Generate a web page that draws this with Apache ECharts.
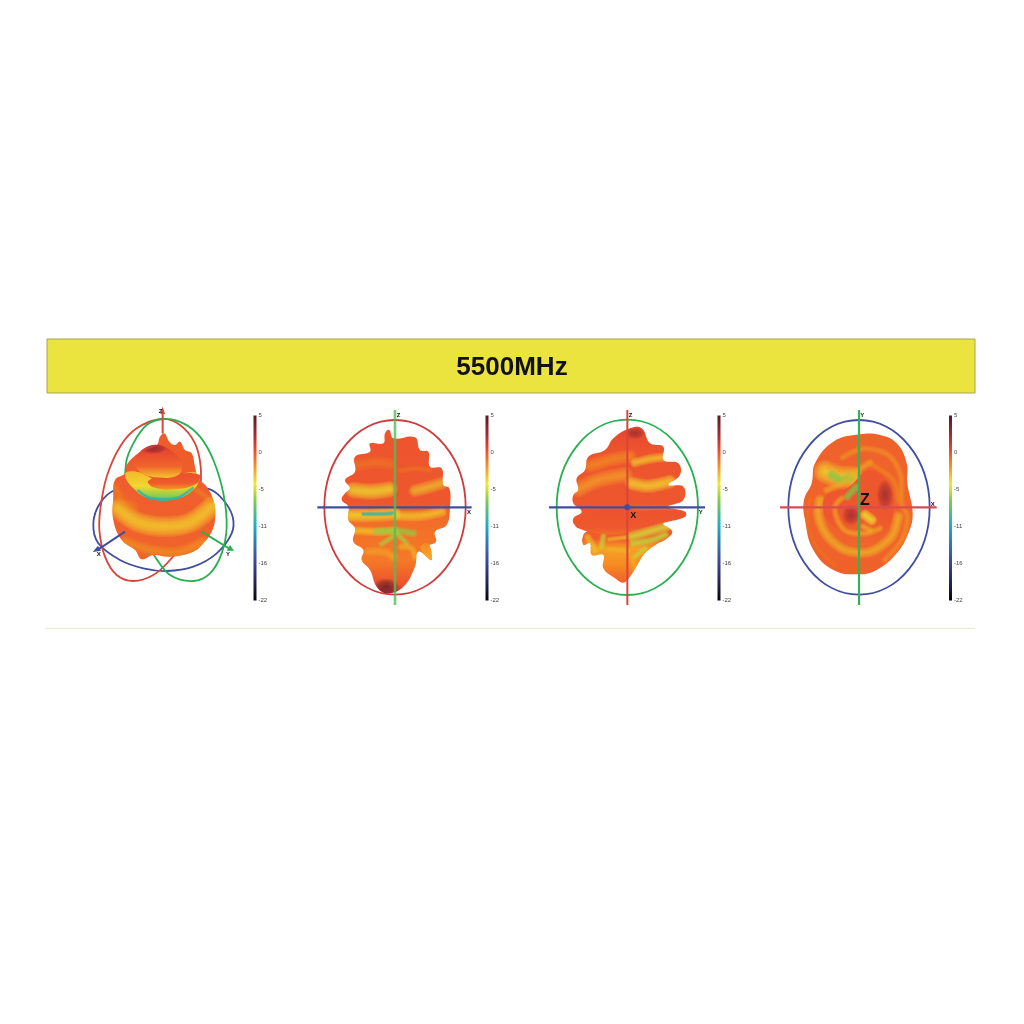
<!DOCTYPE html>
<html><head><meta charset="utf-8">
<style>html,body{margin:0;padding:0;background:#fff}#c{width:1024px;height:1024px;filter:blur(0.6px)}</style>
<script src="https://cdn.jsdelivr.net/npm/echarts@6/dist/echarts.min.js"></script>
</head><body><div id="c"></div>
<script>
const titleText = '5500MHz';
const colorbarTicks = ['-22','-16','-11','-5','0','5'];
const colormapDb = [5, 2, 0, -2.2, -5, -7.5, -11, -16, -19, -22];
const colormapRgb = [[85,25,35],[170,45,50],[235,72,48],[247,140,35],[240,232,50],[130,200,80],[30,175,195],[60,75,160],[40,40,90],[5,5,10]];
const panelLeft = [70, 300, 535, 770];
const barLeft = [255, 487, 719, 950.5];

const rings2 = [[285,322,212,262,'#cf3a3a']];
const rings3 = [[277,322,212,263,'#27b04f']];
const rings4 = [[267,322,212,262,'#3f4ea0']];

const redOrbit = [[275,57],[330,75],[375,130],[392,200],[390,280],[375,380],[300,480],[250,525],[190,543],[140,525],[105,470],[88,390],[92,320],[110,230],[150,140],[200,85]];
const greenOrbit = [[280,57],[340,70],[390,110],[430,180],[460,280],[470,380],[455,460],[420,520],[370,543],[300,525],[255,470],[200,380],[170,290],[168,190],[190,130],[230,75]];
const blueOrbit = [[135,270],[90,310],[70,370],[85,430],[150,480],[220,505],[290,513],[370,500],[440,460],[485,400],[488,350],[460,300],[420,268],[280,240]];

const p1Lines = [
 {p:[[278,100],[278,30]],c:'#d8453c',w:2},
 {p:[[165,395],[85,448]],c:'#3f4ea0',w:2},
 {p:[[395,395],[480,447]],c:'#27b04f',w:2}
];
const p1Heads = [
 {p:[[278,20],[271,42],[285,42]],c:'#d8453c'},
 {p:[[68,456],[84,437],[93,452]],c:'#3f4ea0'},
 {p:[[492,452],[470,452],[480,435]],c:'#27b04f'}
];
const p2Lines = [{p:[[52,322],[515,322]],c:'#3f4ea0',w:2.2},{p:[[285,30],[285,615]],c:'rgba(80,190,90,0.8)',w:2.6}];
const p3Lines = [{p:[[42,322],[510,322]],c:'#3f4ea0',w:2.2},{p:[[277,30],[277,615]],c:'#d8453c',w:2}];
const p4Lines = [{p:[[30,322],[500,322]],c:'#d84a55',w:2.2},{p:[[267,30],[267,615]],c:'#2fb552',w:2.2}];

const body1 = [[283,100],[298,125],[315,135],[330,125],[345,150],[365,160],[375,200],[385,235],[410,260],[430,300],[436,350],[425,395],[400,430],[370,455],[300,470],[250,465],[215,478],[195,450],[155,420],[130,360],[130,290],[135,240],[165,220],[170,195],[205,160],[260,135],[270,110]];
const p1Lobes = [
 {p:body1,s:[[0,-.6],[.5,-.7],[1,-.9]]},
 {p:[[165,222],[200,215],[270,240],[370,215],[385,235],[375,265],[320,297],[240,297],[190,265]],s:[[0,-3.5],[.5,-4.5],[.8,-7],[1,-9]]}
];
const p1Ridges = [
 {p:[[145,325],[200,365],[280,380],[360,368],[425,320]],d:-4.4,w:62,a:.95},
 {p:[[165,425],[250,452],[330,455],[400,425]],d:-2.6,w:36,a:.6},
 {p:[[135,265],[155,300],[190,320]],d:-2.4,w:36,a:.45},
 {p:[[205,272],[240,294],[320,294],[368,264]],d:-11,w:10,a:.9},
 {p:[[380,270],[420,300]],d:-2.6,w:24,a:.4}
];
const p1Caps = [
 {p:[[235,242],[300,224],[388,224],[378,252],[310,268],[250,262]],s:[[0,-.2],[.6,-.6],[1,-2.6]]},
 {p:[[205,160],[250,135],[300,150],[335,190],[325,225],[260,232],[210,215],[195,190]],s:[[0,1.5],[.2,.1],[.65,-.9],[1,-4]]}
];
const p1Blobs = [{c:[250,148],r:[38,14],d:3,a:.8}];

const body2 = [[268,90],[280,115],[345,112],[360,150],[385,155],[390,200],[425,205],[430,255],[448,265],[450,320],[440,375],[405,395],[408,425],[385,440],[395,480],[355,455],[345,500],[310,560],[262,580],[230,560],[210,510],[185,480],[190,450],[160,425],[165,385],[145,360],[145,320],[125,300],[135,280],[150,265],[135,240],[165,215],[165,170],[210,155],[210,130],[250,130],[255,100]];
const p2Lobes = [
 {p:body2,s:[[0,-.4],[.45,-.5],[.55,-1.2],[.8,-1.6],[.95,-.3],[1,2]]}
];
const p2Ridges = [
 {p:[[175,195],[225,188],[270,192]],d:-2,w:40,a:.4},
 {p:[[160,270],[215,275],[268,268]],d:-4.5,w:50,a:.95},
 {p:[[345,272],[385,262],[425,250]],d:-4,w:40,a:.75},
 {p:[[300,212],[350,205],[388,210]],d:-2,w:20,a:.4},
 {p:[[150,345],[215,345],[282,340]],d:-4.5,w:44,a:.95},
 {p:[[190,342],[235,342],[278,340]],d:-11,w:14,a:.9},
 {p:[[292,347],[360,347],[425,335]],d:-4.2,w:34,a:.85},
 {p:[[170,392],[240,395],[285,392]],d:-4.2,w:28,a:.8},
 {p:[[230,395],[285,392],[340,400]],d:-7,w:26,a:.9},
 {p:[[292,402],[320,430]],d:-6.5,w:20,a:.8},
 {p:[[245,432],[282,408]],d:-6.5,w:20,a:.8},
 {p:[[305,440],[335,445],[345,470]],d:-3.5,w:24,a:.7},
 {p:[[205,455],[250,455],[280,470]],d:-3.2,w:30,a:.6}
];
const p2Blobs = [{c:[258,560],r:[40,26],d:4,a:.9}];
const p2Caps = [
 {p:[[362,440],[385,430],[395,480],[372,462]],s:[[0,-2],[1,-3.2]]}
];

const body3 = [[285,85],[320,85],[345,130],[385,140],[385,180],[430,190],[435,225],[400,255],[445,260],[445,300],[400,320],[450,335],[450,350],[385,370],[412,395],[390,420],[370,430],[330,460],[310,490],[285,530],[265,548],[240,535],[205,505],[205,465],[170,465],[165,430],[145,435],[145,405],[165,385],[120,375],[115,355],[140,335],[115,310],[115,285],[130,270],[125,235],[150,210],[160,170],[210,150],[235,115]];
const p3Lobes = [
 {p:body3,s:[[0,.2],[.15,-.4],[.6,-.5],[.72,-.7],[.78,-2.8],[.88,-2.2],[1,-.8]]}
];
const p3Ridges = [
 {p:[[165,198],[230,178],[285,170]],d:-2.6,w:44,a:.6},
 {p:[[300,188],[340,178],[385,172]],d:-4.2,w:30,a:.85},
 {p:[[130,268],[190,240],[270,225]],d:-3.2,w:50,a:.7},
 {p:[[290,250],[340,258],[405,245]],d:-4.4,w:42,a:.95},
 {p:[[300,325],[370,325],[420,322]],d:-2.2,w:24,a:.5}
];
const p3Caps = [
 {p:[[120,368],[170,335],[290,332],[400,330],[450,335],[450,350],[370,372],[285,398],[200,402],[130,385]],s:[[0,-.4],[.7,-.5],[1,-1.2]]}
];
const p3Lower = [
 {p:[[290,410],[340,395],[395,380]],d:-5.6,w:32,a:.95},
 {p:[[295,430],[350,420],[390,405]],d:-6,w:26,a:.9},
 {p:[[205,410],[200,440]],d:-6,w:22,a:.8},
 {p:[[222,418],[275,412]],d:-3.8,w:16,a:.8},
 {p:[[300,470],[330,445]],d:-6,w:18,a:.8},
 {p:[[158,412],[180,450]],d:-3.8,w:26,a:.8},
 {p:[[215,448],[280,452]],d:-3.5,w:18,a:.8},
 {p:[[292,470],[300,510]],d:-3.4,w:22,a:.6}
];
const p3Blobs = [{c:[300,100],r:[30,18],d:3.5,a:.6}];

const body4 = [[270,103],[330,105],[380,130],[410,190],[412,250],[428,340],[415,400],[380,460],[320,510],[265,523],[190,510],[130,450],[105,360],[102,300],[125,250],[135,190],[190,125]];
const p4Lobes = [
 {p:body4,s:[[0,-.8],[.5,-.9],[1,-.8]]}
];
const p4Outer = [
 {p:[[218,172],[280,146],[355,165],[392,225],[395,310],[412,350],[395,420],[345,480]],d:-2.8,w:22,a:.6},
 {p:[[120,300],[112,360],[140,440],[195,495]],d:-2.2,w:16,a:.3},
 {p:[[150,300],[145,345],[170,405],[225,450],[300,455],[365,410],[385,350]],d:-3.6,w:34,a:.75},
 {p:[[165,215],[205,230],[245,232]],d:-5,w:70,a:.8},
 {p:[[185,225],[215,240],[240,232]],d:-7.5,w:30,a:.9},
 {p:[[170,270],[215,250],[262,212],[300,188]],d:-3.4,w:24,a:.6},
 {p:[[300,190],[370,240],[385,300]],d:-2.6,w:20,a:.45}
];
const p4Caps = [
 {p:[[285,215],[320,215],[355,250],[372,320],[345,400],[300,438],[240,435],[215,400],[175,365],[160,325],[170,285],[235,262]],s:[[0,-.5],[.6,-.5],[1,-1]]}
];
const p4Inner = [
 {p:[[232,290],[258,262]],d:-7.5,w:26,a:.95},
 {p:[[215,295],[195,320],[205,365],[232,395],[290,400],[330,385]],d:-3.4,w:22,a:.6},
 {p:[[285,345],[305,360]],d:-5,w:34,a:.95},
 {p:[[280,380],[300,390]],d:-3.5,w:24,a:.7}
];
const p4Blobs = [
 {c:[243,345],r:[28,32],d:1.8,a:1},
 {c:[345,285],r:[26,48],d:2.4,a:.85}
];

function dbColor(db, alpha){
  let i = 0;
  while (i < colormapDb.length-2 && db < colormapDb[i+1]) i++;
  const t = Math.max(0,Math.min(1,(colormapDb[i]-db)/(colormapDb[i]-colormapDb[i+1])));
  const a = colormapRgb[i], b = colormapRgb[i+1];
  const c = a.map((v,k)=>Math.round(v+(b[k]-v)*t));
  return 'rgba('+c[0]+','+c[1]+','+c[2]+','+(alpha===undefined?1:alpha)+')';
}
function fillOf(l){
  return new echarts.graphic.LinearGradient(0,0,0,1,l.s.map(s=>({offset:s[0],color:dbColor(s[1])})));
}
const grids=[], xAxes=[], yAxes=[], series=[];
function addPanel(k, draw){
  grids.push({left:panelLeft[k],top:400,width:210,height:215});
  const idx=grids.length-1;
  xAxes.push({type:'value',gridIndex:idx,min:0,max:630,show:false});
  yAxes.push({type:'value',gridIndex:idx,min:0,max:645,inverse:true,show:false});
  series.push({type:'custom',xAxisIndex:idx,yAxisIndex:idx,clip:false,animation:false,silent:true,
    coordinateSystem:'cartesian2d',data:draw.map((_,i)=>i),encode:{x:0,y:0},
    renderItem:(params,api)=>draw[api.value(0)](api)});
}
const pts=(api,p)=>p.map(q=>api.coord(q));
const polyMark = (l)=>(api)=>({type:'polygon',shape:{points:pts(api,l.p),smooth:0.42},style:{fill:fillOf(l)}});
const flatMark = (l)=>(api)=>({type:'polygon',shape:{points:pts(api,l.p)},style:{fill:l.c}});
const lineMark = (l)=>(api)=>({type:'polyline',shape:{points:pts(api,l.p)},style:{stroke:l.c,lineWidth:l.w,fill:'none'}});
const orbitMark = (p,c)=>(api)=>({type:'polygon',shape:{points:pts(api,p),smooth:0.34},style:{stroke:c,lineWidth:1.8,fill:'none'}});
const ringMark = (r)=>(api)=>{const o=api.coord([r[0],r[1]]),s=api.size([r[2],r[3]]);
  return {type:'ellipse',shape:{cx:o[0],cy:o[1],rx:s[0],ry:s[1]},style:{stroke:r[4],lineWidth:1.8,fill:'none'}};};
const textMark = (t,x,y,size)=>(api)=>{const o=api.coord([x,y]);
  return {type:'text',x:o[0],y:o[1],style:{text:t,font:'bold '+size+'px "Liberation Sans Narrow","Liberation Sans"',fill:'#111',align:'center',verticalAlign:'middle'}};};
const softSteps=[1,.86,.72,.58,.44,.3,.16];
const ridgeIn = (body)=>(l)=>(api)=>({type:'group',
   clipPath:{type:'polygon',shape:{points:pts(api,body),smooth:0.42}},
   children:softSteps.map(f=>({type:'polyline',
   shape:{points:pts(api,l.p),smooth:0.3},
   style:{stroke:dbColor(l.d,l.a*0.2),lineWidth:l.w*f/3,lineCap:'round',lineJoin:'round',fill:'none'}}))});
const blobIn = (body)=>(b)=>(api)=>{const o=api.coord(b.c),rx=api.size([b.r[0],0])[0],ry=api.size([0,b.r[1]])[1];
  return {type:'group',clipPath:{type:'polygon',shape:{points:pts(api,body),smooth:0.42}},children:[
   {type:'circle',x:o[0],y:o[1],scaleX:1,scaleY:ry/rx,shape:{cx:0,cy:0,r:rx},
    style:{fill:new echarts.graphic.RadialGradient(.5,.5,.5,[{offset:0,color:dbColor(b.d,b.a)},{offset:.6,color:dbColor(b.d,b.a*.6)},{offset:1,color:dbColor(b.d,0)}])}}]};};

addPanel(0,[orbitMark(blueOrbit,'#3f4ea0'),orbitMark(redOrbit,'#d8453c'),orbitMark(greenOrbit,'#27b04f'),
  ...p1Lobes.map(polyMark),...p1Ridges.map(ridgeIn(body1)),...p1Caps.map(polyMark),...p1Blobs.map(blobIn(body1)),
  ...p1Lines.map(lineMark),...p1Heads.map(flatMark),
  textMark('Z',272,35,6),textMark('X',86,462,6),textMark('Y',474,462,6)]);
addPanel(1,[...rings2.map(ringMark),...p2Lobes.map(polyMark),...p2Ridges.map(ridgeIn(body2)),...p2Caps.map(polyMark),...p2Blobs.map(blobIn(body2)),
  ...p2Lines.map(lineMark),textMark('Z',296,45,6),textMark('X',507,338,6)]);
addPanel(2,[...rings3.map(ringMark),...p3Lobes.map(polyMark),...p3Ridges.map(ridgeIn(body3)),...p3Caps.map(polyMark),...p3Lower.map(ridgeIn(body3)),...p3Blobs.map(blobIn(body3)),...p3Lines.map(lineMark),
  (api)=>{const o=api.coord([277,322]);return {type:'circle',shape:{cx:o[0],cy:o[1],r:3},style:{fill:'#3f4ea0'}};},
  textMark('Z',287,45,6),textMark('Y',497,338,6),textMark('X',295,346,9)]);
addPanel(3,[...rings4.map(ringMark),...p4Lobes.map(polyMark),...p4Outer.map(ridgeIn(body4)),...p4Caps.map(polyMark),...p4Inner.map(ridgeIn(body4)),...p4Blobs.map(blobIn(body4)),...p4Lines.map(lineMark),
  textMark('Y',277,45,6),textMark('X',488,312,6),textMark('Z',285,302,16)]);

barLeft.forEach(x=>{
  grids.push({left:x-1.5,top:415.5,width:3,height:185});
  const idx=grids.length-1;
  xAxes.push({type:'value',gridIndex:idx,min:0,max:1,show:false});
  yAxes.push({type:'category',gridIndex:idx,data:colorbarTicks,boundaryGap:false,position:'right',
    axisLine:{show:false},axisTick:{show:false},
    axisLabel:{show:true,interval:0,margin:2,fontSize:6,color:'#444',fontFamily:'"Liberation Sans Narrow","Liberation Sans"'}});
  series.push({type:'custom',xAxisIndex:idx,yAxisIndex:idx,clip:false,animation:false,silent:true,
    data:[0],renderItem:(params,api)=>{
      const a=api.coord([0,5]),b=api.coord([1,0]);
      const span=colormapDb[0]-colormapDb[colormapDb.length-1];
      return {type:'rect',shape:{x:a[0],y:a[1],width:b[0]-a[0],height:b[1]-a[1]},
        style:{fill:new echarts.graphic.LinearGradient(0,0,0,1,colormapDb.map(d=>({offset:(colormapDb[0]-d)/span,color:dbColor(d)})))}};
    }});
});

const chart=echarts.init(document.getElementById('c'),null,{renderer:'canvas'});
chart.setOption({
  animation:false,backgroundColor:'#fff',
  title:{text:titleText,left:512,top:355,padding:0,textAlign:'center',textStyle:{fontFamily:'"Liberation Sans",Arial',fontWeight:'bold',fontSize:26,color:'#111'}},
  graphic:[
    {type:'rect',z:-1,shape:{x:47,y:339,width:928,height:54},style:{fill:'#ebe33e',stroke:'#a8a25a',lineWidth:1}},
    {type:'line',z:-1,shape:{x1:45,y1:628.5,x2:975,y2:628.5},style:{stroke:'#ece8d4',lineWidth:1}}
  ],
  grid:grids,xAxis:xAxes,yAxis:yAxes,series
});
</script></body></html>
